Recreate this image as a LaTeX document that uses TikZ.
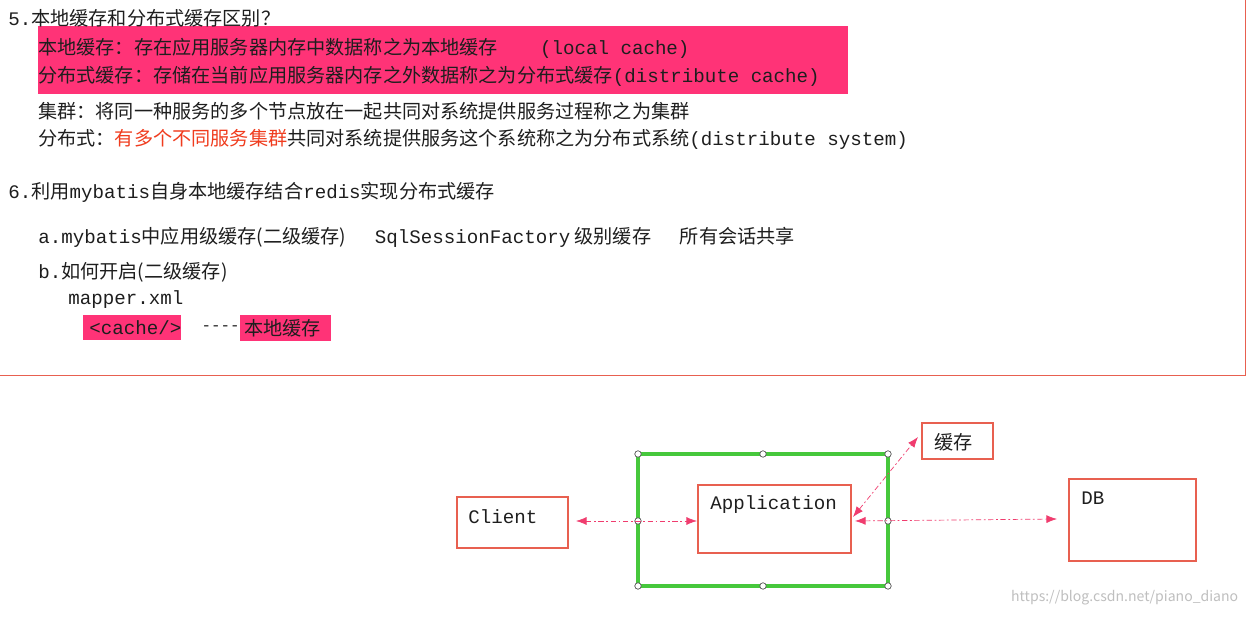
\documentclass[tikz,border=0pt]{standalone}
\usepackage{fontspec}
\setmainfont{Noto Sans CJK SC}
\setmonofont{Liberation Mono}
\newfontfamily\cjk{Noto Sans CJK SC}
\usetikzlibrary{arrows.meta}
\definecolor{hl-pink}{RGB}{255,51,119}
\definecolor{frame-red}{RGB}{232,96,80}
\definecolor{link-pink}{RGB}{240,60,110}
\definecolor{sel-green}{RGB}{70,200,60}
\definecolor{text-dark}{RGB}{30,30,30}
\definecolor{text-red}{RGB}{240,60,30}
\newcommand{\m}[1]{{\ttfamily #1}}
\begin{document}
\begin{tikzpicture}[x=0.02cm,y=-0.02cm,
  line/.style={anchor=west,inner sep=0pt,font=\fontsize{10.9}{12}\selectfont,text=text-dark},
  hlbox/.style={fill=hl-pink,draw=none},
  box/.style={draw=frame-red,fill=white,thick},
  handle/.style={circle,draw=gray!70!black,fill=white,inner sep=1.3pt},
  link/.style={draw=link-pink,dash pattern=on 3pt off 1.5pt on 1pt off 1.5pt,{Latex[length=6pt]}-{Latex[length=6pt]}}
]
\useasboundingbox (0,0) rectangle (1249,617);
\fill[white] (0,0) rectangle (1249,617);
% upper frame
\draw[frame-red] (0,375) -- (1245,375) -- (1245,0);
% highlight boxes
\fill[hlbox] (38,26) rectangle (848,94);
\fill[hlbox] (83,315) rectangle (181,340);
\fill[hlbox] (240,315) rectangle (331,341);
% text lines
\node[line] (t5) at (8,18) {\m{5.}本地缓存和分布式缓存区别？};
\node[line] (local) at (38,48) {本地缓存：存在应用服务器内存中数据称之为本地缓存\hspace{2.2em}\m{(local cache)}};
\node[line] (dist) at (38,76) {分布式缓存：存储在当前应用服务器内存之外数据称之为分布式缓存\m{(distribute cache)}};
\node[line] (cluster) at (38,111) {集群：将同一种服务的多个节点放在一起共同对系统提供服务过程称之为集群};
\node[line] (distsys) at (38,139) {分布式：\textcolor{text-red}{有多个不同服务集群}共同对系统提供服务这个系统称之为分布式系统\m{(distribute system)}};
\node[line] (t6) at (8,192) {\m{6.}利用\m{mybatis}自身本地缓存结合\m{redis}实现分布式缓存};
\node[line] (ta) at (38,237) {\m{a.mybatis}中应用级缓存(二级缓存)\hspace{1.5em}\m{SqlSessionFactory} 级别缓存\hspace{1.5em}所有会话共享};
\node[line] (tb) at (38,272) {\m{b.}如何开启(二级缓存)};
\node[line] (mapper) at (68,300) {\m{mapper.xml}};
\node[line] (cache) at (89,328) {\m{<cache/>}};
\node[line,anchor=east,font=\fontsize{9}{10}\selectfont] (dash) at (240,328) {\m{----}};
\node[line] (bd) at (244,328) {本地缓存};
% lower diagram
\draw[sel-green,line width=1.8pt] (638,454) rectangle (888,586);
\foreach \x in {638,763,888} \foreach \y in {454,586}
  \node[handle] at (\x,\y) {};
\node[handle] (gl) at (638,521) {};
\node[handle] (gr) at (888,521) {};
\draw[box] (457,497) rectangle (568,548);
\node[line] (client) at (468,517) {\m{Client}};
\draw[box] (698,485) rectangle (851,553);
\node[line] (app) at (710,505) {\m{Application}};
\draw[box] (922,423) rectangle (993,459);
\node[line] (huancun) at (934,442) {缓存};
\draw[box] (1069,479) rectangle (1196,561);
\node[line] (db) at (1081,498) {\m{DB}};
\coordinate (cR) at (576,521);
\coordinate (aL) at (697,521);
\coordinate (aR) at (855,521);
\coordinate (aT) at (853,517);
\coordinate (dL) at (1057,519);
\coordinate (hB) at (918,437);
\draw[link] (cR) -- (aL);
\draw[link] (aR) -- (dL);
\draw[link] (aT) -- (hB);
\node[anchor=west,text=gray!50,font=\fontsize{8}{9}\selectfont] (wm) at (1005,598) {https://blog.csdn.net/piano\_diano};
\end{tikzpicture}
\end{document}
